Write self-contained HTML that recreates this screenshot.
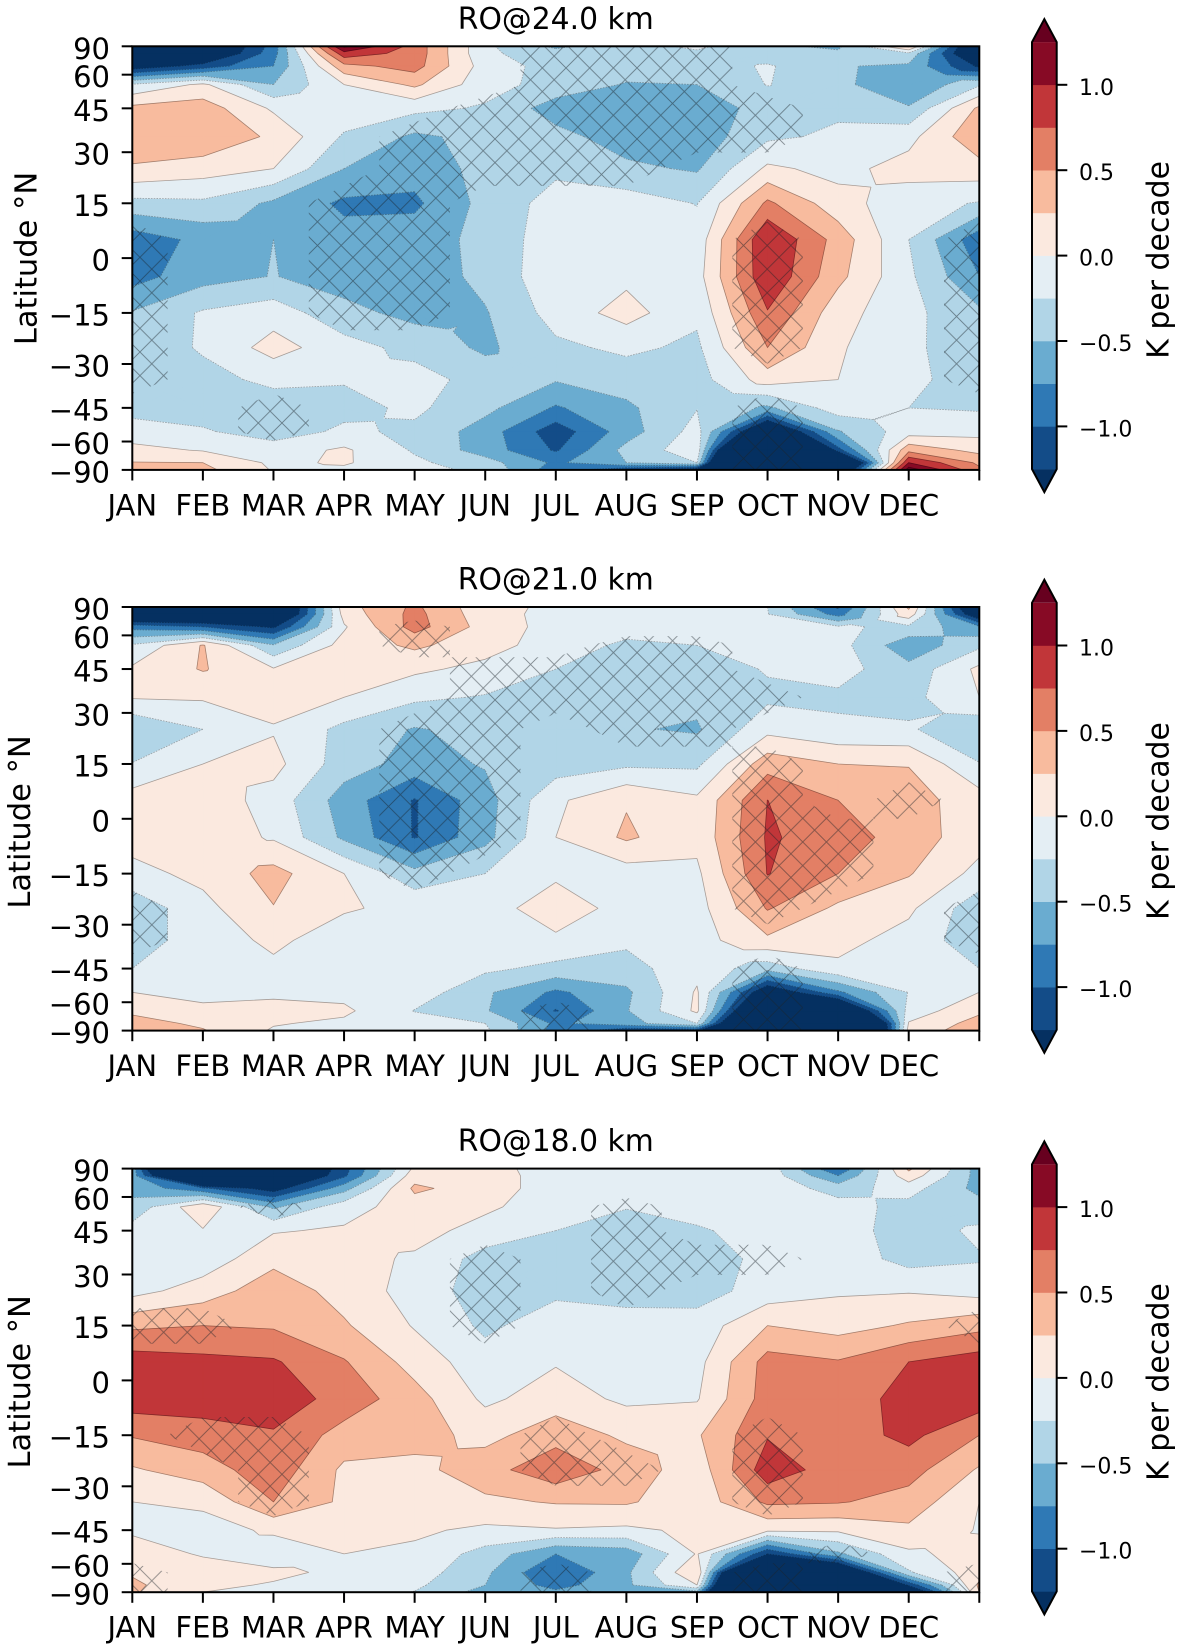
<!DOCTYPE html>
<html lang="en">
<head>
<meta charset="utf-8">
<title>RO temperature trends by latitude and month</title>
<style>
html,body{margin:0;padding:0;background:#fff;}
svg{display:block;}
text{font-family:"DejaVu Sans","Liberation Sans",sans-serif;fill:#000;}
</style>
</head>
<body>
<svg id="figure" xmlns="http://www.w3.org/2000/svg" width="1180" height="1650" viewBox="0 0 1180 1650">
<rect x="0" y="0" width="1180" height="1650" fill="#ffffff"></rect>
<defs id="defs"></defs>
</svg>
<script>
const months = ["JAN","FEB","MAR","APR","MAY","JUN","JUL","AUG","SEP","OCT","NOV","DEC"];
const gridLats = [90,75,65,55,45,35,25,15,5,-5,-15,-25,-35,-45,-55,-65,-75,-90];
const yTickLats = [90,60,45,30,15,0,-15,-30,-45,-60,-90];
const yTickLabels = ["90","60","45","30","15","0","\u221215","\u221230","\u221245","\u221260","\u221290"];
const levels = [-1.25,-1,-0.75,-0.5,-0.25,0,0.25,0.5,0.75,1,1.25];
const bandColors = ["#053061","#134c88","#2f79b5","#6aacd0","#b1d5e7","#e4eef4","#fbe9df","#f8bb9e","#e37f65","#c13639","#870a25","#67001f"];
const cbarTicks = [-1,-0.5,0,0.5,1];
const cbarTickLabels = ["\u22121.0","\u22120.5","0.0","0.5","1.0"];
const panelTitles = ["RO@24.0 km","RO@21.0 km","RO@18.0 km"];

/* Trend values: one sub-array per month column (JAN..DEC, then the closing JAN), rows follow gridLats */
const ro24 = [
[-1.9,-1.8,-1.45,-.22,.32,.42,.22,-.33,-.9,-.85,-.48,-.42,-.4,-.33,-.15,.08,.26,.35],
[-1.8,-1.7,-1.15,.05,.38,.46,.12,-.3,-.68,-.6,-.22,-.22,-.33,-.38,-.22,-.02,.25,.32],
[-.9,-.85,-.75,-.5,-.04,.2,0,-.55,-.5,-.49,-.11,.1,-.19,-.38,-.38,-.12,-.05,-.02],
[1.3,.9,.42,0,-.1,-.28,-.5,-.8,-.66,-.62,-.42,-.15,-.23,-.33,-.2,.04,.03,-.05],
[.65,.65,.6,.3,-.18,-.55,-.65,-.8,-.62,-.65,-.58,-.33,-.15,-.2,-.3,-.28,-.2,-.18],
[-.2,-.2,-.12,-.15,-.28,-.42,-.42,-.42,-.43,-.43,-.52,-.55,-.35,-.43,-.62,-.62,-.4,-.3],
[-.55,-.4,-.35,-.35,-.62,-.42,-.3,-.15,-.1,-.08,-.15,-.3,-.48,-.78,-1.15,-1.03,-.8,-.9],
[-.35,-.35,-.38,-.52,-.62,-.62,-.45,-.12,-.05,-.06,.1,-.2,-.38,-.55,-.62,-.42,-.5,-1.2],
[-.2,-.3,-.38,-.5,-.62,-.65,-.53,-.26,-.15,-.1,-.2,-.3,-.35,-.26,-.15,-.1,-.25,-1.5],
[-.45,-.4,-.22,-.24,-.42,-.3,.05,.55,1,.97,.73,.5,.12,-.55,-1.9,-4,-6,-7],
[-.55,-.45,-.48,-.42,-.3,-.2,-.08,.1,.4,.32,.1,.03,0,-.12,-.52,-1.1,-2.5,-2],
[.3,-.3,-.55,-.75,-.47,-.08,.1,-.15,-.25,-.2,-.18,-.2,-.2,-.25,-.12,.42,1,1.4],
[-1.9,-1.8,-1.3,-.28,.3,.45,.15,-.27,-.92,-.75,-.45,-.4,-.35,-.28,-.08,.17,.45,.55]
];
const ro21 = [
[-2,-1.9,-.85,-.22,.04,.02,-.49,-.24,.12,.1,-.08,-.42,-.4,-.25,0,.2,.35,.4],
[-2,-1.9,-1,.27,.27,.03,-.25,0,.15,.15,.07,-.08,-.1,-.1,-.08,.06,.2,.27],
[-2.1,-2,-1.3,-.48,.02,.1,-.02,.08,-.1,-.03,.34,.24,.04,-.04,-.03,.05,.02,-.03],
[.15,.1,-.03,.1,.06,0,-.32,-.38,-.62,-.55,0,.02,-.1,-.1,-.08,.05,-.05,-.1],
[.55,.58,.6,.3,.05,-.2,-.52,-.6,-1.02,-1.02,-.42,-.05,-.08,-.1,-.1,-.26,-.15,-.12],
[.08,.1,.15,.1,-.07,-.27,-.42,-.48,-.6,-.58,-.25,-.12,-.1,-.2,-.46,-.47,-.25,-.2],
[-.05,-.08,-.1,-.12,-.25,-.45,-.42,-.38,-.05,0,-.05,.15,-.05,-.32,-.8,-1.02,-.8,-.85],
[-.1,-.12,-.15,-.3,-.38,-.42,-.48,-.3,.23,.29,-.12,-.1,-.2,-.35,-.55,-.52,-.6,-1.2],
[-.1,-.1,-.12,-.25,-.38,-.43,-.53,-.3,.05,.07,-.05,-.1,-.1,-.08,.03,.05,-.25,-1.2],
[-.25,-.24,-.2,-.15,-.23,-.3,-.08,.4,.752,.78,.76,.52,.2,-.4,-1.6,-2.4,-3.3,-4],
[-1.05,-.85,-.22,-.15,-.15,-.3,-.2,.25,.5,.63,.5,.2,.08,-.05,-.8,-2.1,-4.1,-4.5],
[.3,.15,-.3,-.68,-.42,-.33,-.22,.24,.35,.38,.27,.05,-.1,-.1,-.24,-.15,.02,.1],
[-1.9,-1.6,-.72,-.3,.06,0,-.45,-.24,.12,.1,-.08,-.42,-.4,-.25,0,.2,.35,.4]
];
const ro18 = [
[-.6,-.62,-.58,-.42,-.15,-.25,-.09,.45,.88,.9,.52,.22,0,-.03,.1,.22,.3,.28],
[-4,-2.8,-.95,.2,-.02,-.15,.12,.5,.82,.9,.62,.38,.05,-.1,-.02,.1,.05,0],
[-2,-1.9,-1.4,-.55,-.02,.18,.4,.47,.78,.9,.72,.65,.5,.04,-.15,.05,-.02,-.08],
[-1.1,-1.05,-.6,-.1,.03,.1,.15,.28,.52,.65,.4,.2,.2,.05,0,-.05,-.1,-.12],
[.05,.15,.3,.12,.1,-.04,-.1,-.02,.15,.35,.35,.17,.1,.04,-.05,-.12,-.2,-.26],
[.08,.1,.12,.05,-.1,-.35,-.38,-.3,-.15,-.05,.17,.4,.2,-.05,-.35,-.45,-.5,-.6],
[-.1,-.1,-.12,-.15,-.25,-.4,-.3,-.12,-.02,.12,.4,.68,.27,-.02,-.75,-1,-.85,-.7],
[-.1,-.1,-.12,-.24,-.35,-.42,-.37,-.12,-.08,-.05,.2,.4,.28,-.05,-.65,-.55,-.55,-.7],
[-.1,-.1,-.1,-.15,-.28,-.38,-.35,-.15,-.08,-.02,.22,.1,.1,.05,.02,.25,0,-.6],
[-.1,-.1,-.1,-.12,-.15,-.18,-.15,.25,.6,.62,.73,.9,.55,.05,-1.25,-4,-5,-5],
[-1,-.75,-.35,-.15,-.12,-.1,-.03,.15,.52,.6,.62,.62,.52,.04,-.55,-2,-3,-3.5],
[.3,.15,-.15,-.33,-.38,-.34,-.02,.28,.75,.85,.82,.6,.4,.2,-.05,-.28,-1.2,-1.83],
[-.62,-.6,-.58,-.4,-.2,-.27,-.1,.42,.88,.9,.5,.22,0,-.02,.1,.15,.3,.25]
];

/* Significance masks: one string per gridLats row, one character per month column */
const sig24 = [
"0000001110000","0000001110000","0000001110000","0000001110000","0000011111000","0000111111000",
"0000111100000","0001100000000","1001100001001","1001100001001","1001100001001","1000000001001",
"1000000000001","0010000001000","0010000001000","0000000001000","0000000001000","0000000001000"
];
const sig21 = [
"0000000000000","0000000000000","0000100000000","0000100110000","0000011110000","0000011111000",
"0000110110000","0000110001000","0000110001010","0000110001100","0000100001100","1000000001001",
"1000000000001","0000000001000","0000000001000","0000001001000","0000001001000","0000001001000"
];
const sig18 = [
"0000000000000","0000000000000","0000000000000","0010000100000","0000000100000","0000010111000",
"0000010100000","1100010000001","0000000000000","0000000000000","0110001001000","0010001101000",
"0010000001000","0000000000000","0000000000100","1000001001001","1000001001001","1000001001001"
];

const panelGrids = [ro24, ro21, ro18];
const panelMasks = [sig24, sig21, sig18];
const panelKeys = ["24km","21km","18km"];

const layout = {
  left: 132.3, width: 847, height: 423.6,
  tops: [46.3, 607, 1168.6],
  yLabelBaseX: [36.5, 30, 30],
  yLabelMid: [212.2, 215, 213.2],
  cbarLabelMid: [213.6, 214, 213.4],
  hatchOrigin: [[329.3,257.3],[447.7,818.3],[258.3,1474.3]],
  hatchSize: 23.67,
  cbarLeft: 1032, cbarWidth: 24.7, cbarHeight: 427, cbarTopOffset: -4.2, cbarTip: 23
};

const svg = document.getElementById('figure');
const defs = document.getElementById('defs');
const NS = 'http://www.w3.org/2000/svg';

function svgEl(parent, tag, attrs, text) {
  const node = document.createElementNS(NS, tag);
  for (const k in attrs) node.setAttribute(k, attrs[k]);
  if (text !== undefined) node.textContent = text;
  parent.appendChild(node);
  return node;
}
function xScale(i) { return layout.left + i * layout.width / 12; }
function yScale(lat, top) {
  return top + layout.height / 2 - (layout.height / 2) * Math.sin(lat * Math.PI / 180);
}
function clipPoly(poly, level, sign) {
  const out = [];
  for (let i = 0; i < poly.length; i++) {
    const a = poly[i], b = poly[(i + 1) % poly.length];
    const fa = sign * (a.v - level), fb = sign * (b.v - level);
    if (fa >= 0) out.push(a);
    if ((fa >= 0) !== (fb >= 0)) {
      const t = fa / (fa - fb);
      out.push({x: a.x + t * (b.x - a.x), y: a.y + t * (b.y - a.y), v: level});
    }
  }
  return out;
}
function cellPolys(valueAt, c, r, top) {
  const q = [
    {x: xScale(c), y: yScale(gridLats[r], top), v: valueAt(c, r)},
    {x: xScale(c + 1), y: yScale(gridLats[r], top), v: valueAt(c + 1, r)},
    {x: xScale(c + 1), y: yScale(gridLats[r + 1], top), v: valueAt(c + 1, r + 1)},
    {x: xScale(c), y: yScale(gridLats[r + 1], top), v: valueAt(c, r + 1)}
  ];
  const saddle = Math.min(q[0].v, q[2].v) > Math.max(q[1].v, q[3].v) ||
                 Math.min(q[1].v, q[3].v) > Math.max(q[0].v, q[2].v);
  if (!saddle) return [q];
  const mid = {
    x: (q[0].x + q[2].x) / 2,
    y: (q[0].y + q[2].y) / 2,
    v: (q[0].v + q[1].v + q[2].v + q[3].v) / 4
  };
  return [[q[0], q[1], mid], [q[1], q[2], mid], [q[2], q[3], mid], [q[3], q[0], mid]];
}
function polyPath(poly) {
  return 'M' + poly.map(p => p.x.toFixed(1) + ' ' + p.y.toFixed(1)).join('L') + 'Z';
}
function bandPath(valueAt, top, lo, hi) {
  let d = '';
  for (let c = 0; c < months.length; c++) {
    for (let r = 0; r < gridLats.length - 1; r++) {
      for (const cell of cellPolys(valueAt, c, r, top)) {
        let poly = cell;
        if (lo !== null) poly = clipPoly(poly, lo, 1);
        if (poly.length && hi !== null) poly = clipPoly(poly, hi, -1);
        if (poly.length >= 3) d += polyPath(poly);
      }
    }
  }
  return d;
}
function levelPath(valueAt, top, level) {
  let d = '';
  for (let c = 0; c < months.length; c++) {
    for (let r = 0; r < gridLats.length - 1; r++) {
      for (const q of cellPolys(valueAt, c, r, top)) {
        const pts = [];
        for (let i = 0; i < q.length; i++) {
          const a = q[i], b = q[(i + 1) % q.length];
          if ((a.v >= level) !== (b.v >= level)) {
            const t = (level - a.v) / (b.v - a.v);
            pts.push({x: a.x + t * (b.x - a.x), y: a.y + t * (b.y - a.y)});
          }
        }
        for (let i = 0; i + 1 < pts.length; i += 2) {
          d += 'M' + pts[i].x.toFixed(1) + ' ' + pts[i].y.toFixed(1) + 'L' + pts[i + 1].x.toFixed(1) + ' ' + pts[i + 1].y.toFixed(1);
        }
      }
    }
  }
  return d;
}

function drawPanel(p) {
  const top = layout.tops[p];
  const bottom = top + layout.height;
  const left = layout.left;
  const grid = panelGrids[p];
  const mask = panelMasks[p];
  const valueAt = (c, r) => grid[c][r];
  const maskAt = (c, r) => mask[r].charAt(c) === '1' ? 1 : 0;

  const group = svgEl(svg, 'g', {});
  
  

  const title = svgEl(group, 'text', {x: left + layout.width / 2, y: top - 17.5, 'text-anchor': 'middle', 'font-size': 29.8}, panelTitles[p]);
  
  

  const plot = svgEl(group, 'g', {});
  
  

  for (let b = 0; b < bandColors.length; b++) {
    const lo = b === 0 ? null : levels[b - 1];
    const hi = b === bandColors.length - 1 ? null : levels[b];
    const d = bandPath(valueAt, top, lo, hi);
    if (!d) continue;
    const band = svgEl(plot, 'path', {d: d, fill: bandColors[b], stroke: bandColors[b], 'stroke-width': 0.6});
    
    
  }
  for (let l = 0; l < levels.length; l++) {
    const d = levelPath(valueAt, top, levels[l]);
    if (!d) continue;
    const attrs = {d: d, fill: 'none', stroke: '#000', 'stroke-opacity': 0.33, 'stroke-width': 0.8};
    if (levels[l] < 0) attrs['stroke-dasharray'] = '1.6 1.2';
    const line = svgEl(plot, 'path', attrs);
    
    
  }

  const patId = 'hatch-' + p;
  const S = layout.hatchSize;
  const pat = svgEl(defs, 'pattern', {id: patId, patternUnits: 'userSpaceOnUse', x: layout.hatchOrigin[p][0], y: layout.hatchOrigin[p][1], width: S, height: S});
  svgEl(pat, 'path', {d: 'M0 0L' + S + ' ' + S + 'M' + S + ' 0L0 ' + S, stroke: '#1a2228', 'stroke-opacity': 0.5, 'stroke-width': 0.9, fill: 'none'});
  const hatch = svgEl(plot, 'path', {d: bandPath(maskAt, top, 0.5, null), fill: 'url(#' + patId + ')', stroke: 'none'});
  
  

  const frame = svgEl(group, 'rect', {x: left, y: top, width: layout.width, height: layout.height, fill: 'none', stroke: '#000', 'stroke-width': 2});
  
  

  for (let i = 0; i <= 12; i++) {
    const tick = svgEl(group, 'line', {x1: xScale(i), x2: xScale(i), y1: bottom, y2: bottom + 10.6, stroke: '#000', 'stroke-width': 2});
    
    
    if (i < 12) {
      const lab = svgEl(group, 'text', {x: xScale(i), y: bottom + 45.5, 'text-anchor': 'middle', 'font-size': 29}, months[i]);
      
      
    }
  }
  for (let i = 0; i < yTickLats.length; i++) {
    const y = yScale(yTickLats[i], top);
    const tick = svgEl(group, 'line', {x1: left - 10.6, x2: left, y1: y, y2: y, stroke: '#000', 'stroke-width': 2});
    
    
    const lab = svgEl(group, 'text', {x: 110, y: y + 12.5, 'text-anchor': 'end', 'font-size': 29}, yTickLabels[i]);
    
    
  }
  const yMid = top + layout.yLabelMid[p];
  const yLab = svgEl(group, 'text', {transform: 'translate(' + layout.yLabelBaseX[p] + ' ' + yMid + ') rotate(-90)', 'text-anchor': 'middle', 'font-size': 30.5}, 'Latitude \u00b0N');
  
  

  /* colour bar */
  const cbTop = top + layout.cbarTopOffset;
  const cbH = layout.cbarHeight;
  const cbL = layout.cbarLeft;
  const cbW = layout.cbarWidth;
  const cbY = v => cbTop + cbH * (1.25 - v) / 2.5;
  const cbar = svgEl(group, 'g', {});
  
  
  const tipBottom = svgEl(cbar, 'polygon', {points: cbL + ',' + cbY(-1.25) + ' ' + (cbL + cbW) + ',' + cbY(-1.25) + ' ' + (cbL + cbW / 2) + ',' + (cbY(-1.25) + layout.cbarTip), fill: bandColors[0]});
  
  
  for (let b = 1; b < bandColors.length - 1; b++) {
    const seg = svgEl(cbar, 'rect', {x: cbL, y: cbY(levels[b]), width: cbW, height: cbY(levels[b - 1]) - cbY(levels[b]) + 0.3, fill: bandColors[b]});
    
    
  }
  const tipTop = svgEl(cbar, 'polygon', {points: cbL + ',' + cbY(1.25) + ' ' + (cbL + cbW) + ',' + cbY(1.25) + ' ' + (cbL + cbW / 2) + ',' + (cbY(1.25) - layout.cbarTip), fill: bandColors[bandColors.length - 1]});
  
  
  const outline = svgEl(cbar, 'polygon', {points: [
    [cbL, cbY(1.25)], [cbL + cbW / 2, cbY(1.25) - layout.cbarTip], [cbL + cbW, cbY(1.25)],
    [cbL + cbW, cbY(-1.25)], [cbL + cbW / 2, cbY(-1.25) + layout.cbarTip], [cbL, cbY(-1.25)]
  ].map(q => q.join(',')).join(' '), fill: 'none', stroke: '#000', 'stroke-width': 2});
  
  
  for (let i = 0; i < cbarTicks.length; i++) {
    const y = cbY(cbarTicks[i]);
    const tick = svgEl(cbar, 'line', {x1: cbL + cbW, x2: cbL + cbW + 10.6, y1: y, y2: y, stroke: '#000', 'stroke-width': 2});
    
    
    const lab = svgEl(cbar, 'text', {x: 1079, y: y + 10, 'font-size': 22}, cbarTickLabels[i]);
    
    
  }
  const cbLab = svgEl(cbar, 'text', {transform: 'translate(1168.6 ' + (top + layout.cbarLabelMid[p]) + ') rotate(-90)', 'text-anchor': 'middle', 'font-size': 29.9}, 'K per decade');
  
  
}

for (let p = 0; p < panelGrids.length; p++) drawPanel(p);
</script>
</body>
</html>
